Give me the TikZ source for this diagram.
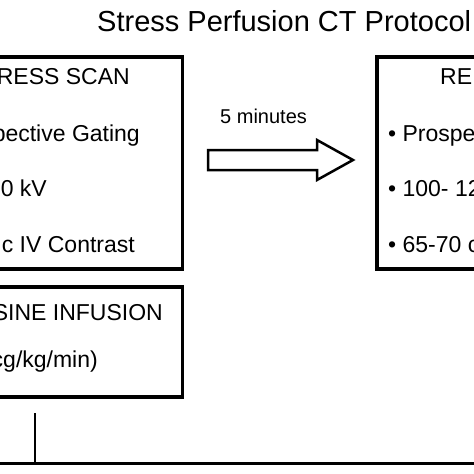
\documentclass[tikz,border=0pt]{standalone}
\usepackage{fontspec}
\setmainfont{Liberation Sans}
\usetikzlibrary{positioning}
\tikzstyle{box} = [rectangle, draw, line width=3.5pt, inner sep=0pt]
\tikzstyle{txt} = [inner sep=0pt, font=\fontsize{23}{26}\selectfont]
\tikzstyle{line} = [draw, line width=3pt]

\begin{document}
\begin{tikzpicture}[x=1pt, y=-1pt]
\useasboundingbox (0,0) rectangle (474,474);
\clip (0,0) rectangle (474,474);
\node [anchor=base west, inner sep=0pt, font=\fontsize{29}{32}\selectfont] (title) at (97,31.5) {Stress Perfusion CT Protocol};
% stress scan box (cut on the left)
\node [box, anchor=north east, minimum width=340pt, minimum height=212pt] (stress) at (184,55) {};
\node [txt, anchor=base east] (s1) at (130,84) {RESS SCAN};
\node [txt, anchor=base east] (s2) at (140,141) {pective Gating};
\node [txt, anchor=base east] (s3) at (47,196) {20 kV};
\node [txt, anchor=base east] (s4) at (135,252) {c IV Contrast};
% infusion box
\node [box, anchor=north east, minimum width=340pt, minimum height=110pt] (infusion) at (184,285) {};
\node [txt, anchor=base east] (i1) at (163,320) {SINE INFUSION};
\node [txt, anchor=base east] (i2) at (98,367) {cg/kg/min)};
% rest scan box (cut on the right)
\node [box, anchor=north west, minimum width=340pt, minimum height=212pt] (rest) at (375,55) {};
\node [txt, anchor=base west] (r1) at (440,84) {RE};
\node [txt, anchor=base west] (r2) at (388,141) {• Prospe};
\node [txt, anchor=base west] (r3) at (388,196) {• 100- 12};
\node [txt, anchor=base west] (r4) at (388,252) {• 65-70 c};
% delay
\node [anchor=base west, inner sep=0pt, font=\fontsize{20}{23}\selectfont] (delay) at (220,123) {5 minutes};
\draw [line width=2.5pt, line join=miter] (208,150) -- (317,150) -- (317,140) -- (353,160)
  -- (317,180) -- (317,170) -- (208,170) -- cycle;
% time line
\coordinate (tick) at (35,413);
\coordinate (tl0) at (-5,463);
\coordinate (tl1) at (480,463);
\path [line] (tl0) -- (tl1);
\path [line, line width=2.5pt] (tick) -- (tick |- tl0);
\end{tikzpicture}
\end{document}
